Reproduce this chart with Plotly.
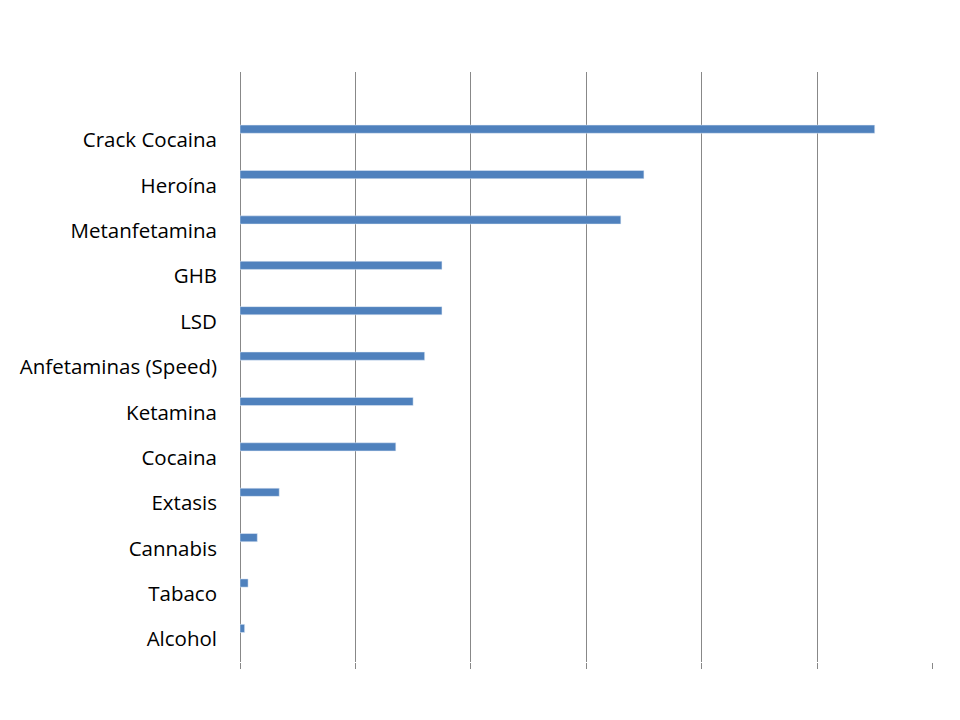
import plotly.graph_objects as go

categories = ["Alcohol", "Tabaco", "Cannabis", "Extasis", "Cocaina", "Ketamina",
              "Anfetaminas (Speed)", "LSD", "GHB", "Metanfetamina", "Heroína", "Crack Cocaina"]
values = [0.04, 0.07, 0.15, 0.34, 1.35, 1.5, 1.6, 1.75, 1.75, 3.3, 3.5, 5.5]

pos = list(range(len(categories)))
fig = go.Figure(go.Bar(
    x=values, y=[p + 0.24 for p in pos], orientation="h", width=0.18,
    marker=dict(color="#4F81BD"),
))
fig.update_layout(
    width=960, height=720, margin=dict(l=227, r=35, t=64, b=66),
    plot_bgcolor="white", paper_bgcolor="white", showlegend=False,
    font=dict(family="Open Sans", size=20.5, color="black"),
    xaxis=dict(range=[0, 6.005], dtick=1, showgrid=True, gridcolor="#888888", gridwidth=1,
               showticklabels=False, zeroline=True, zerolinecolor="#888888", zerolinewidth=1,
               ticks="outside", ticklen=6, tickcolor="#888888"),
    yaxis=dict(range=[-0.5, 12.5], tickvals=pos, ticktext=categories, showgrid=False,
               zeroline=False, ticks="", ticklabelstandoff=22),
)
fig.write_html("out.html")
